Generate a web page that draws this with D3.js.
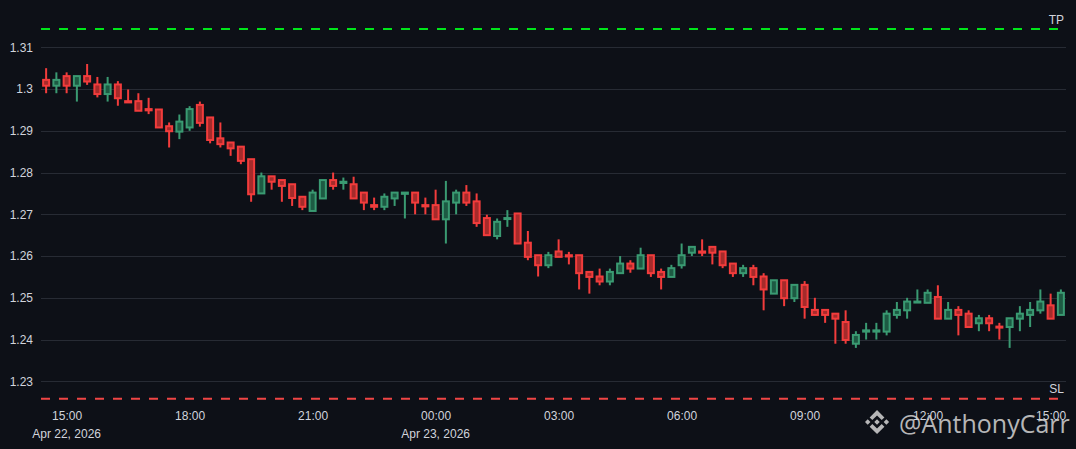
<!DOCTYPE html>
<html>
<head>
<meta charset="utf-8">
<script src="https://cdn.jsdelivr.net/npm/d3@7/dist/d3.min.js"></script>
<style>
  html, body { margin: 0; padding: 0; background: #0d1017; }
  svg { display: block; }
  text { font-family: "Liberation Sans", Arial, sans-serif; }
</style>
</head>
<body>
<svg id="chart" width="1076" height="449"></svg>
<script>
// ---- data (15-minute candles, Apr 22 2026 14:30 -> Apr 23 2026 15:15) ----
const startTime = new Date(2026, 3, 22, 14, 30);
const open = [1.3022,1.3008,1.3031,1.3008,1.3031,1.3011,1.2988,1.3011,1.2971,1.2971,
  1.2952,1.2951,1.2911,1.2898,1.2908,1.2962,1.2932,1.2882,1.2872,1.2862,
  1.2832,1.2750,1.2791,1.2782,1.2772,1.2742,1.2708,1.2738,1.2782,1.2775,
  1.2772,1.2752,1.2722,1.2718,1.2738,1.2749,1.2752,1.2722,1.2722,1.2688,
  1.2728,1.2752,1.2731,1.2691,1.2648,1.2689,1.2702,1.2632,1.2602,1.2578,
  1.2611,1.2602,1.2602,1.2562,1.2551,1.2539,1.2559,1.2582,1.2570,1.2602,
  1.2562,1.2550,1.2578,1.2608,1.2611,1.2622,1.2611,1.2582,1.2559,1.2571,
  1.2551,1.2510,1.2542,1.2499,1.2531,1.2471,1.2471,1.2462,1.2442,1.2390,
  1.2419,1.2419,1.2419,1.2459,1.2470,1.2489,1.2488,1.2502,1.2450,1.2471,
  1.2462,1.2439,1.2451,1.2431,1.2430,1.2450,1.2459,1.2470,1.2482,1.2459];
const high = [1.3050,1.3040,1.3040,1.3031,1.3060,1.3029,1.3029,1.3019,1.2999,1.2990,
  1.2979,1.2951,1.2920,1.2939,1.2959,1.2970,1.2932,1.2920,1.2872,1.2862,
  1.2832,1.2800,1.2791,1.2782,1.2772,1.2742,1.2759,1.2782,1.2800,1.2788,
  1.2790,1.2752,1.2740,1.2750,1.2752,1.2752,1.2752,1.2740,1.2759,1.2780,
  1.2759,1.2770,1.2750,1.2699,1.2690,1.2710,1.2702,1.2660,1.2602,1.2610,
  1.2640,1.2610,1.2602,1.2562,1.2570,1.2570,1.2600,1.2590,1.2620,1.2602,
  1.2570,1.2579,1.2630,1.2622,1.2640,1.2622,1.2611,1.2582,1.2579,1.2579,
  1.2559,1.2542,1.2542,1.2531,1.2540,1.2500,1.2471,1.2462,1.2470,1.2420,
  1.2440,1.2440,1.2470,1.2490,1.2500,1.2520,1.2520,1.2530,1.2490,1.2480,
  1.2470,1.2459,1.2459,1.2440,1.2451,1.2480,1.2490,1.2520,1.2510,1.2520];
const low = [1.2990,1.2990,1.2990,1.2970,1.3010,1.2980,1.2970,1.2960,1.2968,1.2948,
  1.2940,1.2908,1.2860,1.2880,1.2900,1.2910,1.2870,1.2860,1.2840,1.2820,
  1.2730,1.2750,1.2759,1.2730,1.2720,1.2710,1.2708,1.2738,1.2759,1.2759,
  1.2738,1.2710,1.2710,1.2710,1.2720,1.2690,1.2700,1.2700,1.2688,1.2630,
  1.2700,1.2720,1.2670,1.2650,1.2640,1.2670,1.2630,1.2590,1.2551,1.2571,
  1.2598,1.2580,1.2520,1.2510,1.2530,1.2530,1.2559,1.2560,1.2570,1.2550,
  1.2520,1.2550,1.2570,1.2600,1.2600,1.2580,1.2571,1.2550,1.2550,1.2530,
  1.2470,1.2510,1.2480,1.2490,1.2450,1.2459,1.2440,1.2390,1.2390,1.2380,
  1.2400,1.2400,1.2410,1.2450,1.2450,1.2489,1.2488,1.2450,1.2450,1.2410,
  1.2430,1.2420,1.2420,1.2400,1.2380,1.2420,1.2430,1.2462,1.2450,1.2459];
const close = [1.3008,1.3022,1.3008,1.3031,1.3018,1.2988,1.3011,1.2978,1.2968,1.2948,
  1.2949,1.2908,1.2899,1.2922,1.2952,1.2919,1.2878,1.2868,1.2858,1.2828,
  1.2748,1.2791,1.2778,1.2768,1.2739,1.2718,1.2752,1.2782,1.2768,1.2778,
  1.2738,1.2728,1.2718,1.2742,1.2752,1.2752,1.2728,1.2719,1.2688,1.2731,
  1.2752,1.2728,1.2679,1.2650,1.2682,1.2691,1.2630,1.2598,1.2578,1.2602,
  1.2598,1.2599,1.2559,1.2550,1.2539,1.2562,1.2582,1.2570,1.2602,1.2559,
  1.2550,1.2571,1.2602,1.2622,1.2608,1.2608,1.2578,1.2559,1.2571,1.2550,
  1.2520,1.2542,1.2499,1.2531,1.2478,1.2459,1.2459,1.2450,1.2399,1.2411,
  1.2422,1.2422,1.2462,1.2471,1.2491,1.2491,1.2512,1.2450,1.2471,1.2459,
  1.2430,1.2451,1.2439,1.2429,1.2451,1.2462,1.2471,1.2491,1.2450,1.2512];

const takeProfit = 1.3144;
const stopLoss = 1.2258;
const yTickValues = [1.23, 1.24, 1.25, 1.26, 1.27, 1.28, 1.29, 1.30, 1.31];
const yTickLabels = ["1.23", "1.24", "1.25", "1.26", "1.27", "1.28", "1.29", "1.3", "1.31"];
const xTickLabels = ["15:00", "18:00", "21:00", "00:00", "03:00", "06:00", "09:00", "12:00", "15:00"];
const xDateLabels = ["Apr 22, 2026", "", "", "Apr 23, 2026", "", "", "", "", ""];
const watermark = "@AnthonyCarr";

// ---- build candle table ----
const STEP = 15 * 60 * 1000;
const candles = open.map((o, i) => ({
  t: new Date(startTime.getTime() + i * STEP),
  o, h: high[i], l: low[i], c: close[i]
}));

// ---- layout ----
const W = 1076, H = 449;
const plotL = 41, plotR = 1066;
const svg = d3.select("#chart");
svg.append("rect").attr("width", W).attr("height", H).attr("fill", "#0d1017");

const x = d3.scaleTime()
  .domain([new Date(startTime.getTime() - STEP / 2), new Date(candles[candles.length - 1].t.getTime() + STEP / 2)])
  .range([plotL, plotR]);
const y = d3.scaleLinear().domain([1.23, 1.31]).range([381.3, 47.3]);

// grid
svg.append("g").selectAll("line").data(yTickValues).join("line")
  .attr("x1", plotL).attr("x2", plotR)
  .attr("y1", d => Math.round(y(d)) + 0.5).attr("y2", d => Math.round(y(d)) + 0.5)
  .attr("stroke", "#272b34").attr("stroke-width", 1);

// y axis labels
const yAxis = d3.axisLeft(y).tickValues(yTickValues)
  .tickFormat((d, i) => yTickLabels[i]).tickSize(0).tickPadding(0);
const gy = svg.append("g").attr("transform", "translate(33,0)").call(yAxis);
gy.select(".domain").remove();
gy.selectAll("text").attr("fill", "#d1d4dc").attr("font-size", 12)
  .style("font-family", "'Liberation Sans', Arial, sans-serif");

// x axis labels
const xTickTimes = d3.timeHour.every(3).range(
  new Date(2026, 3, 22, 15, 0), new Date(2026, 3, 23, 15, 1));
const xAxis = d3.axisBottom(x).tickValues(xTickTimes)
  .tickFormat((d, i) => xTickLabels[i]).tickSize(0).tickPadding(0);
const gx = svg.append("g").attr("transform", "translate(0,411)").call(xAxis);
gx.select(".domain").remove();
gx.selectAll("text").attr("fill", "#d1d4dc").attr("font-size", 12)
  .style("font-family", "'Liberation Sans', Arial, sans-serif");
svg.append("g").selectAll("text").data(xTickTimes).join("text")
  .attr("x", d => x(d)).attr("y", 438)
  .attr("text-anchor", "middle").attr("fill", "#d1d4dc").attr("font-size", 12)
  .text((d, i) => xDateLabels[i]);

// TP / SL lines
function levelLine(v, color, label, labelY) {
  svg.append("line")
    .attr("x1", plotL).attr("x2", plotR)
    .attr("y1", y(v)).attr("y2", y(v))
    .attr("stroke", color).attr("stroke-width", 2)
    .attr("stroke-dasharray", "9,9");
  svg.append("text").attr("x", 1064).attr("y", labelY)
    .attr("text-anchor", "end").attr("fill", "#d1d4dc").attr("font-size", 12)
    .text(label);
}
levelLine(takeProfit, "#00e61a", "TP", 24);
levelLine(stopLoss, "#f04545", "SL", 393);

// candles
const bw = 6;
const gc = svg.append("g");
const up = d => d.c >= d.o;
gc.selectAll("line.wick").data(candles).join("line")
  .attr("class", "wick")
  .attr("x1", d => x(d.t)).attr("x2", d => x(d.t))
  .attr("y1", d => y(d.h)).attr("y2", d => y(d.l))
  .attr("stroke", d => up(d) ? "#3a9a72" : "#f23c3c")
  .attr("stroke-width", 2);
gc.selectAll("rect.body").data(candles).join("rect")
  .attr("class", "body")
  .attr("x", d => x(d.t) - bw / 2)
  .attr("y", d => y(Math.max(d.o, d.c)))
  .attr("width", bw)
  .attr("height", d => Math.max(1, y(Math.min(d.o, d.c)) - y(Math.max(d.o, d.c))))
  .attr("fill", d => up(d) ? "#1d5a43" : "#a52b2b")
  .attr("stroke", d => up(d) ? "#3a9a72" : "#f23c3c")
  .attr("stroke-width", 2);

// watermark
const wm = svg.append("g").attr("opacity", 0.85);
const logo = "M38.73 53.2l24.59-24.58 24.6 24.6 14.3-14.31L63.32 0 24.42 38.9l14.31 14.3zM0 63.31l14.3-14.31 14.31 14.31-14.31 14.3zm38.73 10.1l24.59 24.59 24.6-24.6 14.31 14.29-38.9 38.91-38.91-38.88-.02-.02zM98.28 63.31l14.3-14.31 14.31 14.3-14.31 14.32zM77.83 63.3L63.32 48.78 52.59 59.51l-1.24 1.23-2.54 2.54-.02.02.02.03 14.51 14.5 14.51-14.52.01-.01z";
wm.append("path").attr("d", logo)
  .attr("transform", "translate(865,410) scale(0.19)")
  .attr("fill", "#d4d4d4");
wm.append("text").attr("x", 899).attr("y", 433)
  .attr("font-size", 25).attr("fill", "#d4d4d4")
  .style("font-family", "'Open Sans', 'Noto Sans', sans-serif")
  .text(watermark);
</script>
</body>
</html>
